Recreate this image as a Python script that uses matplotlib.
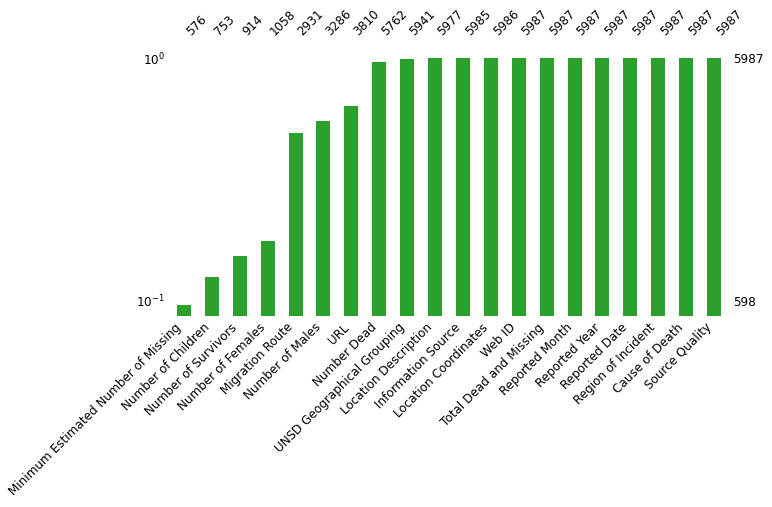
import matplotlib
matplotlib.use("Agg")
import matplotlib.pyplot as plt
import numpy as np

# columns and non-null counts (missingno style bar chart, log scale)
columns = ["Minimum Estimated Number of Missing", "Number of Children", "Number of Survivors",
           "Number of Females", "Migration Route", "Number of Males", "URL", "Number Dead",
           "UNSD Geographical Grouping", "Location Description", "Information Source",
           "Location Coordinates", "Web ID", "Total Dead and Missing", "Reported Month",
           "Reported Year", "Reported Date", "Region of Incident", "Cause of Death", "Source Quality"]
counts = [576, 753, 914, 1058, 2931, 3286, 3810, 5762, 5941, 5977, 5985, 5986,
          5987, 5987, 5987, 5987, 5987, 5987, 5987, 5987]
n_rows = 5987

frac = np.array(counts) / n_rows
x = np.arange(len(columns))
fs = 8.64

fig = plt.figure(figsize=(7.72, 5.07), dpi=100)
ax0 = fig.add_axes([170/772, 1 - 316/507, 558/772, (316 - 43)/507])
ax0.bar(x, frac, width=0.5, color="#2ca02c", log=True)
ax0.set_xlim(-0.5, len(columns) - 0.5)
ax0.set_ylim(10**(-1 - 15/243), 10**(15/243))
ax0.set_xticks(x)
ax0.set_xticklabels(columns, rotation=45, ha="right", fontsize=fs)
ax0.tick_params(axis="y", labelsize=fs)

ax2 = ax0.twinx()
ax2.set_yscale("log")
ax2.set_ylim(ax0.get_ylim())
ax2.set_yticks([0.1, 1.0])
ax2.set_yticklabels([int(0.1 * n_rows), n_rows], fontsize=fs)
ax2.minorticks_off()

ax3 = ax0.twiny()
ax3.set_xlim(ax0.get_xlim())
ax3.set_xticks(x)
ax3.set_xticklabels(counts, rotation=45, ha="left", fontsize=fs)

for ax in [ax0, ax2, ax3]:
    for s in ax.spines.values():
        s.set_visible(False)
    ax.tick_params(length=0, which="both")
ax0.minorticks_off()

fig.savefig("out.png", dpi=100)
